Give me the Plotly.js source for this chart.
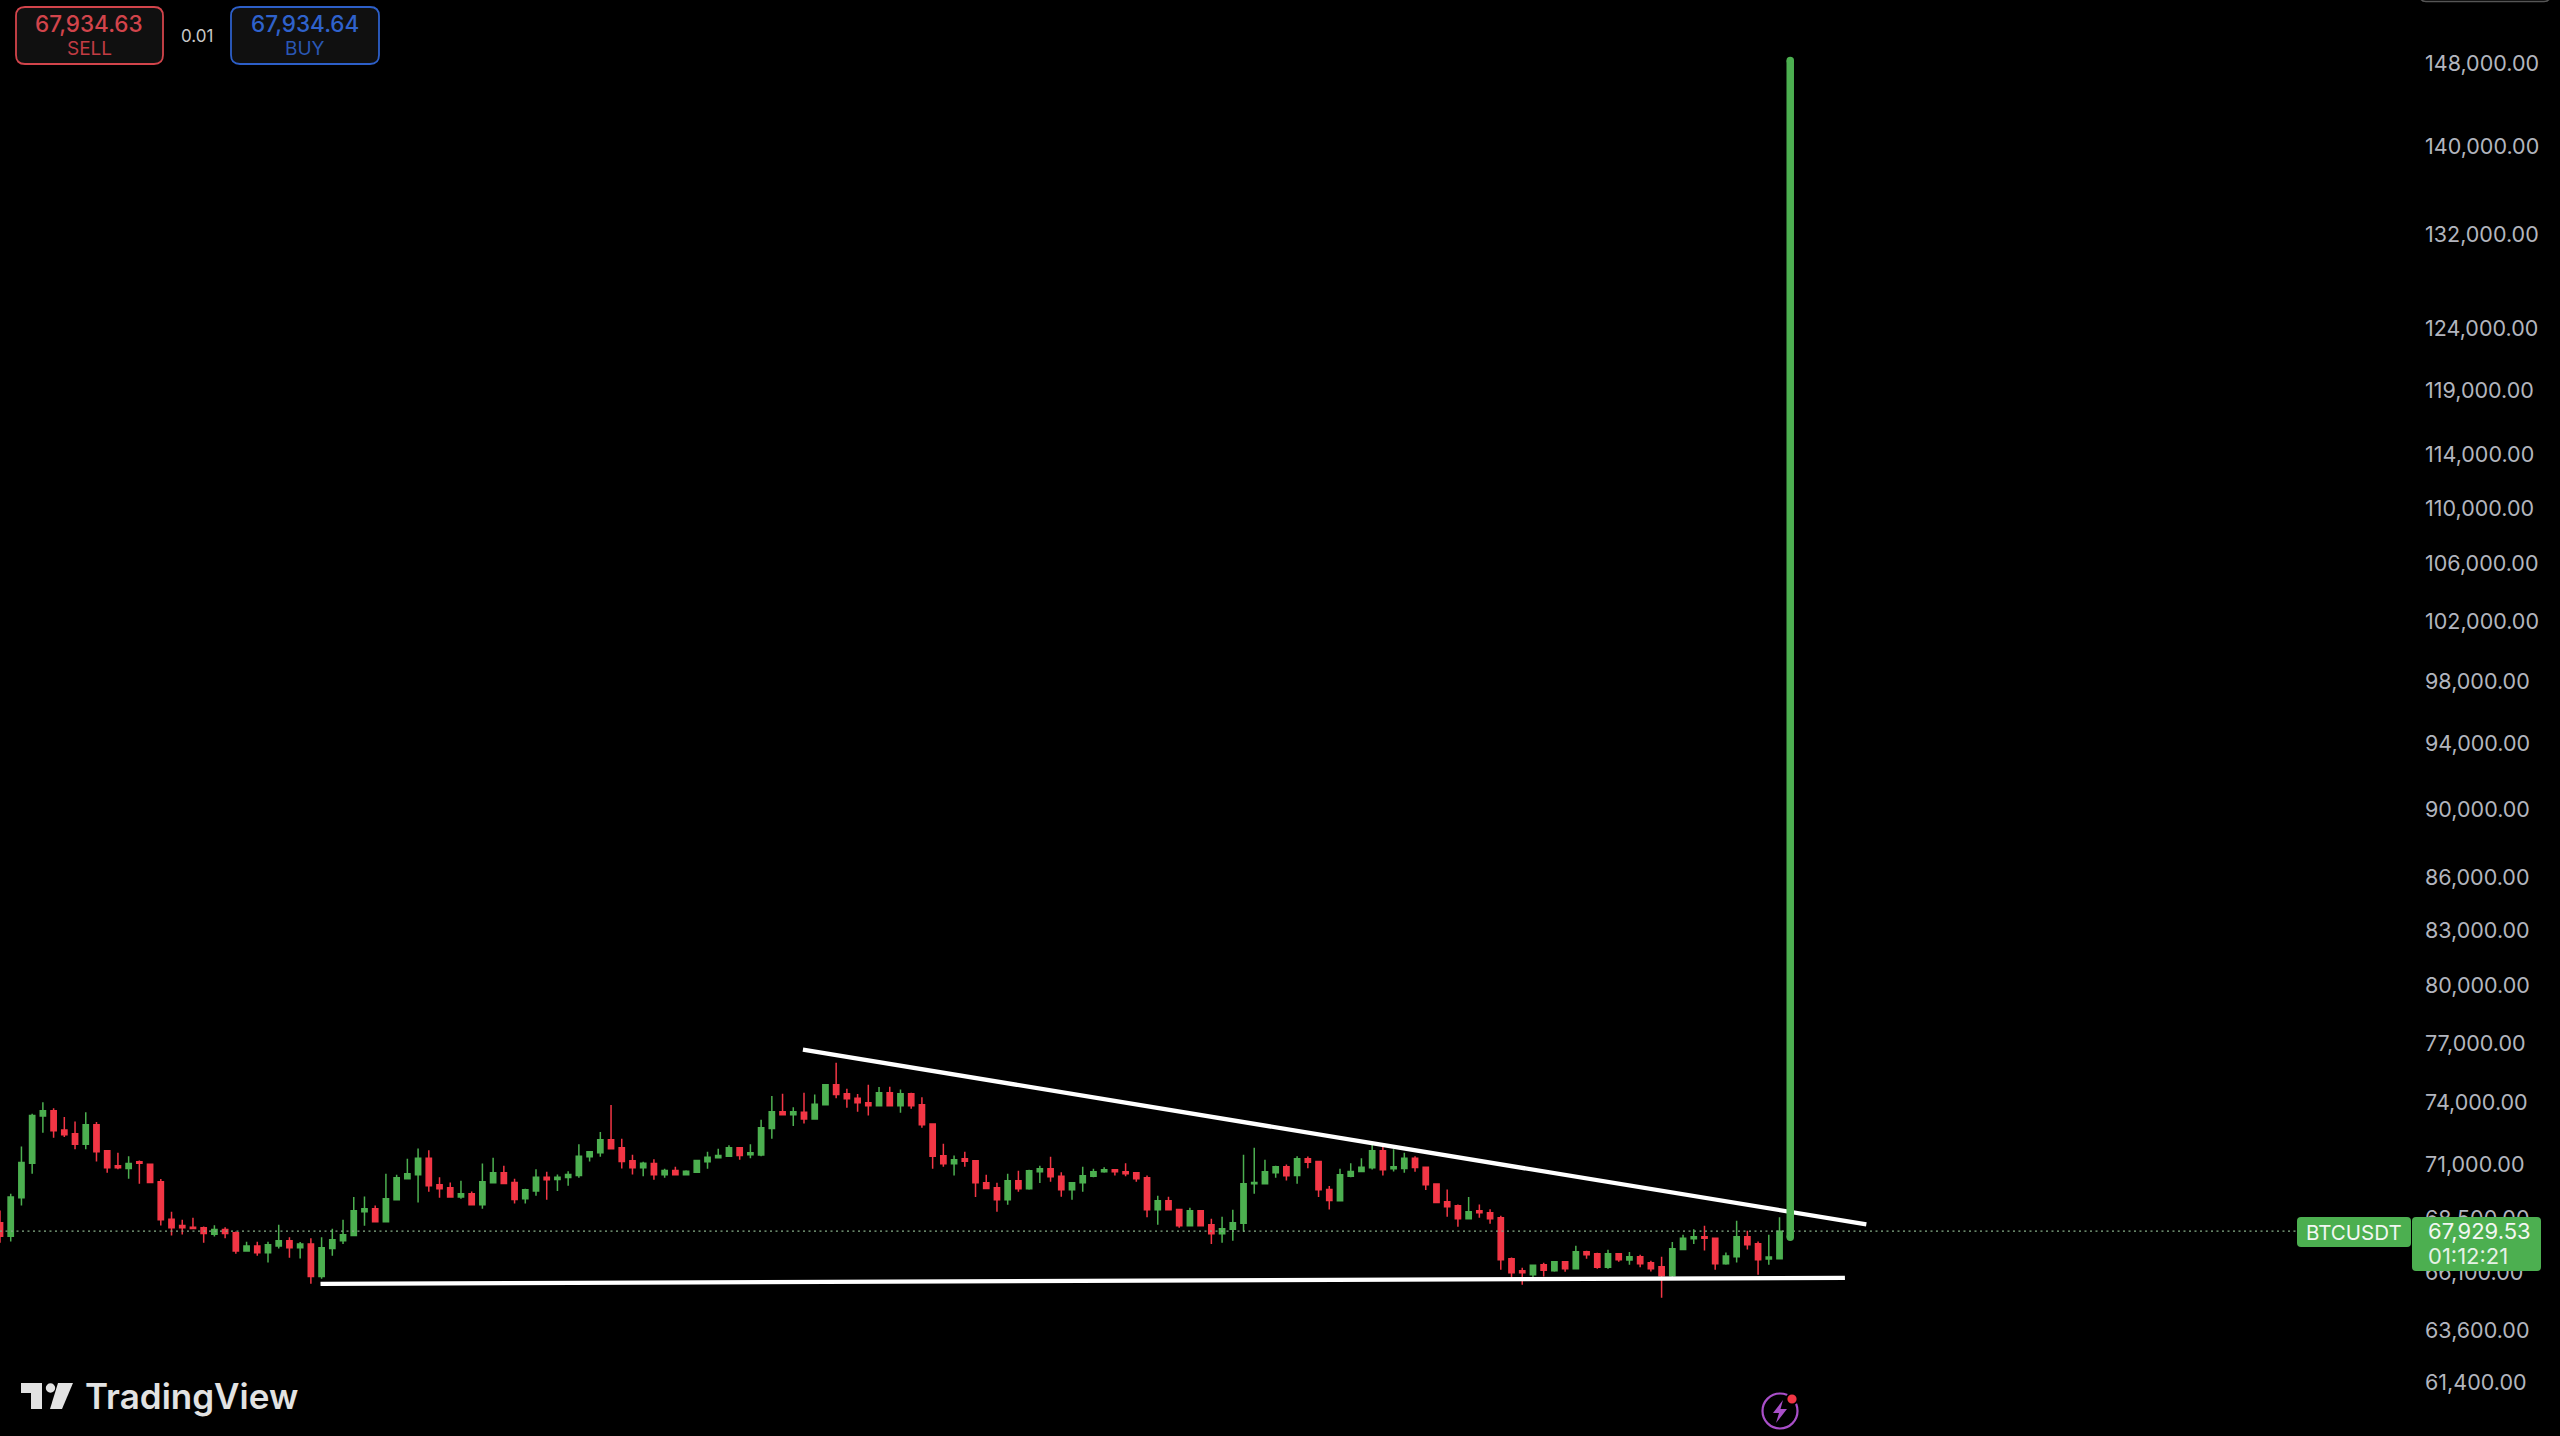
<!DOCTYPE html>
<html>
<head>
<meta charset="utf-8">
<script src="https://cdn.plot.ly/plotly-3.0.1.min.js"></script>
<style>html,body{margin:0;padding:0;background:#000;overflow:hidden}#chart{width:2560px;height:1436px}</style>
</head>
<body>
<div id="chart"></div>
<script>
const opens = [68312,67706,69462,71082,73348,73607,72667,72489,71989,72926,
71671,70955,70828,71146,71034,70205,68479,68190,68114,68084,
67795,68008,67855,67036,67259,66961,67259,67498,67185,67349,
65910,67155,67498,67736,68813,68950,68357,69368,70345,70531,
71321,70066,69926,69492,69648,69133,70159,70624,70175,69415,
69771,70422,70314,70407,70500,71384,71575,72195,71814,71194,
70860,71066,70531,70733,70531,70655,71146,71337,71416,71814,
71480,71464,72748,73558,73412,73542,73202,73899,74895,74447,
74231,73999,73850,74497,73850,74447,73899,72959,71432,71050,
71289,71194,70159,69926,69368,70252,69880,70671,70812,70469,
69834,70159,70469,70671,70765,70671,70624,70392,68904,69322,
68920,68175,68859,68220,67810,68023,68296,70112,70112,70624,
70907,70500,71289,71162,69849,69322,70469,70687,70860,71671,
70812,70828,71321,70891,70097,69275,69087,68494,68859,68768,
68540,66693,66158,65983,66425,66158,66559,66246,67006,66917,
66320,66917,66633,66783,66514,66335,65940,67110,67587,67676,
67617,66470,66783,67676,67364,66678,66693];
const closes = [67706,69492,71114,73380,73607,72635,72440,71989,72926,71623,
70860,70860,71066,71082,70175,68448,68084,68084,68053,67825,
68008,67825,67036,67259,66961,67319,67498,67185,67349,65910,
67185,67542,67766,68859,68950,68357,69415,70392,70577,71321,
70020,69880,69492,69648,69133,70205,70624,70128,69384,69834,
70422,70298,70422,70546,71416,71623,72195,71766,71162,70860,
71082,70531,70733,70531,70702,71210,71368,71448,71814,71448,
71575,72781,73558,73412,73558,73202,73932,74895,74414,74198,
73999,73850,74497,73850,74447,73850,72926,71416,71050,71241,
71178,70159,69895,69368,70252,69880,70718,70812,70438,69834,
70159,70484,70671,70765,70671,70577,70345,68904,69322,68904,
68175,68859,68175,67810,68038,68312,70112,70175,70671,70907,
70484,71289,71130,69834,69337,70531,70687,70891,71671,70765,
70907,71321,70876,70066,69245,69041,68494,68813,68768,68494,
66648,66070,66070,66410,66187,66559,66246,67006,66872,66320,
66917,66648,66783,66470,66246,65940,67140,67617,67676,67617,
66470,66812,67676,67319,66648,66768,67930];
const highs = [68874,69648,71877,73461,74032,73736,73299,73088,73542,73056,
71671,71575,71416,71210,71066,70330,68813,68448,68540,68144,
68205,68114,67915,67453,67453,67453,68220,67661,67438,67617,
67661,68038,68448,69492,69523,69102,70577,70531,71289,71782,
71702,70422,70175,70252,69756,71066,71337,70955,70345,69880,
70796,70671,70546,70702,71989,71639,72570,73898,72243,71480,
71146,71273,70812,70907,70749,71241,71623,71766,71941,71814,
71989,73169,74331,74447,73785,74497,74414,74895,76000,74696,
74430,74895,74779,74796,74663,74497,74281,72959,72005,71448,
71623,71194,70531,70159,70577,70718,70765,70955,71384,70655,
70159,70907,70812,70891,70765,71082,70624,70500,69554,69508,
68950,68996,68859,68494,68585,68904,71480,71814,71241,70955,
71018,71416,71400,71162,70004,70812,71082,71321,71973,71925,
71750,71575,71416,70891,70128,69849,69148,69492,69148,68935,
68631,66752,66291,66425,66514,66559,66559,67274,67051,66961,
67095,66917,66991,66872,66603,66783,67438,67766,68023,68175,
67632,66976,68403,67945,67468,67766,68570];
const lows = [67408,67468,69102,70577,72538,72295,72327,71750,71750,71162,
70624,70796,70345,70112,70175,68190,67736,67781,68038,67408,
67691,67617,66917,67036,66827,66529,67155,66738,66708,65592,
65809,66827,67349,67736,68175,68357,68357,69368,70345,69244,
69740,69462,69462,69415,69133,68950,70159,70128,69198,69198,
69554,69368,69771,70020,70392,71162,71384,71766,70828,70546,
70469,70298,70392,70531,70500,70624,70812,71321,71416,71241,
71321,71416,72243,73380,72862,72991,73169,73866,74231,73753,
73558,73380,73850,73850,73510,73704,72781,70812,70907,70500,
70907,69492,69895,68813,69133,69740,69834,70143,70205,69508,
69368,69740,70422,70624,70500,70469,70205,68570,68220,68904,
68084,68175,68175,67349,67408,67498,67900,69648,70112,70392,
70267,70112,70844,69492,68920,69322,70422,70687,70780,70500,
70687,70624,70671,69818,69214,68585,68129,68464,68540,68266,
66202,65751,65548,65809,65910,66114,66114,66216,66693,66246,
66246,66559,66425,66320,66128,64980,65795,67110,67349,67066,
66202,66425,66529,67110,65983,66425,66693];

const priceTicks = [148000,140000,132000,124000,119000,114000,110000,106000,102000,98000,94000,90000,86000,83000,80000,77000,74000,71000,68500,66100,63600,61400];
const priceTickLabels = ["148,000.00","140,000.00","132,000.00","124,000.00","119,000.00","114,000.00","110,000.00","106,000.00","102,000.00","98,000.00","94,000.00","90,000.00","86,000.00","83,000.00","80,000.00","77,000.00","74,000.00","71,000.00","68,500.00","66,100.00","63,600.00","61,400.00"];

const lastPrice = 67929.53;
const upperTrendX = [74.9, 174.1];
const upperTrendY = [76670, 68240];
const lowerTrendX = [29.9, 172.1];
const lowerTrendY = [65585, 65846];
const targetX = [167, 167];
const targetY = [67660, 148250];
const dottedX = [0, 214.2];

const GREEN = '#4caf50', RED = '#f23645';
const W = 2560, H = 1436, PW = 2424;
const X = x => x / PW, Y = y => 1 - y / H;

function roundRect(x0, y0, x1, y1, r) {
  const p = (x, y) => X(x) + ',' + Y(y);
  return 'M' + p(x0 + r, y0) + ' L' + p(x1 - r, y0) + ' Q' + p(x1, y0) + ' ' + p(x1, y0 + r) +
    ' L' + p(x1, y1 - r) + ' Q' + p(x1, y1) + ' ' + p(x1 - r, y1) +
    ' L' + p(x0 + r, y1) + ' Q' + p(x0, y1) + ' ' + p(x0, y1 - r) +
    ' L' + p(x0, y0 + r) + ' Q' + p(x0, y0) + ' ' + p(x0 + r, y0) + ' Z';
}
function poly(pts) {
  return pts.map((q, i) => (i ? 'L' : 'M') + X(q[0]) + ',' + Y(q[1])).join(' ') + ' Z';
}
function pathShape(d, fill, line, lw) {
  return {type: 'path', xref: 'paper', yref: 'paper', path: d, fillcolor: fill || 'rgba(0,0,0,0)',
    line: {color: line || 'rgba(0,0,0,0)', width: lw || 0}, layer: 'above'};
}
function circleShape(cx, cy, r, fill, line, lw) {
  return {type: 'circle', xref: 'paper', yref: 'paper', x0: X(cx - r), x1: X(cx + r), y0: Y(cy + r), y1: Y(cy - r),
    fillcolor: fill || 'rgba(0,0,0,0)', line: {color: line || 'rgba(0,0,0,0)', width: lw || 0}, layer: 'above'};
}
function label(text, x, y, size, color, anchor, weight) {
  return {text: text, xref: 'paper', yref: 'paper', x: X(x), y: Y(y), xanchor: anchor || 'center', yanchor: 'middle',
    showarrow: false, borderpad: 0, font: {family: 'Inter, "Liberation Sans", sans-serif', size: size, color: color, weight: weight || 400}};
}

const traces = [
  {type: 'scatter', mode: 'lines', x: dottedX, y: [lastPrice, lastPrice], line: {color: '#86ae88', width: 1.2, dash: '2px,3.5px'}, hoverinfo: 'skip', showlegend: false},
  {type: 'candlestick', x: opens.map((_, i) => i), open: opens, high: highs, low: lows, close: closes, width: 0.66,
    whiskerwidth: 0, increasing: {line: {color: GREEN, width: 1.5}, fillcolor: GREEN},
    decreasing: {line: {color: RED, width: 1.5}, fillcolor: RED}, showlegend: false},
  {type: 'scatter', mode: 'lines', x: upperTrendX, y: upperTrendY, line: {color: '#ffffff', width: 4.3}, showlegend: false},
  {type: 'scatter', mode: 'lines', x: lowerTrendX, y: lowerTrendY, line: {color: '#ffffff', width: 4.3}, showlegend: false},
  {type: 'scatter', mode: 'lines+markers', x: targetX, y: targetY, line: {color: GREEN, width: 7.5}, marker: {color: GREEN, size: 7.5}, showlegend: false}
];

const shapes = [
  pathShape(roundRect(16, 7, 163, 64, 9), '#101010', '#d2444b', 1.8),
  pathShape(roundRect(231, 7, 379, 64, 9), '#101010', '#2d5fc8', 1.8),
  pathShape(roundRect(2420, -12, 2550, 1.5, 6), 'rgba(0,0,0,0)', '#555555', 1.5),
  pathShape(roundRect(2297, 1217, 2411, 1247, 4), GREEN),
  pathShape(roundRect(2412, 1217, 2541, 1271, 4), GREEN),
  pathShape(poly([[21, 1383], [42, 1383], [42, 1409], [31, 1409], [31, 1393], [21, 1393]]), '#e2e2e2'),
  circleShape(50.5, 1388, 4.7, '#e2e2e2'),
  pathShape(poly([[58, 1383], [73, 1383], [62, 1409], [50, 1409]]), '#e2e2e2'),
  circleShape(1780, 1411, 17.5, null, '#a94fc9', 2.2),
  pathShape(poly([[1783, 1400], [1773, 1413], [1779, 1413], [1776, 1423], [1787, 1409], [1780.5, 1409]]), '#a94fc9'),
  circleShape(1792, 1399, 6.5, '#000000'),
  circleShape(1792, 1399, 4.6, RED)
];

const annotations = [
  label('67,934.63', 89, 24, 22.5, '#d2444b', 'center', 500),
  label('SELL', 89, 48.5, 19, '#c23c43'),
  label('0.01', 197, 36, 17, '#c8c8c8'),
  label('67,934.64', 305, 24, 22.5, '#2f62cc', 'center', 500),
  label('BUY', 305, 48.5, 19, '#2a57b4'),
  label('BTCUSDT', 2354, 1232, 20.5, '#f2f7f2'),
  label('67,929.53', 2427, 1231, 22, '#f2f7f2', 'left'),
  label('01:12:21', 2427, 1256, 22, '#e6f2e6', 'left'),
  label('TradingView', 84, 1396, 35, '#e2e2e2', 'left', 600)
];

const layout = {
  width: W, height: H, autosize: false, showlegend: false, dragmode: false,
  paper_bgcolor: '#000000', plot_bgcolor: '#000000',
  margin: {l: 0, r: W - PW, t: 0, b: 0, pad: 0},
  xaxis: {type: 'linear', range: [0, PW / 10.72], visible: false, rangeslider: {visible: false}, fixedrange: true},
  yaxis: {type: 'log', range: [4.77277, 5.18851], side: 'right', tickmode: 'array',
    tickvals: priceTicks, ticktext: priceTickLabels, showgrid: false, zeroline: false, showline: false, ticks: '',
    fixedrange: true, tickfont: {family: 'Inter, "Liberation Sans", sans-serif', size: 21.5, color: '#b2b5be'}},
  shapes: shapes,
  annotations: annotations
};

Plotly.newPlot('chart', traces, layout, {displayModeBar: false, staticPlot: true});
</script>
</body>
</html>
